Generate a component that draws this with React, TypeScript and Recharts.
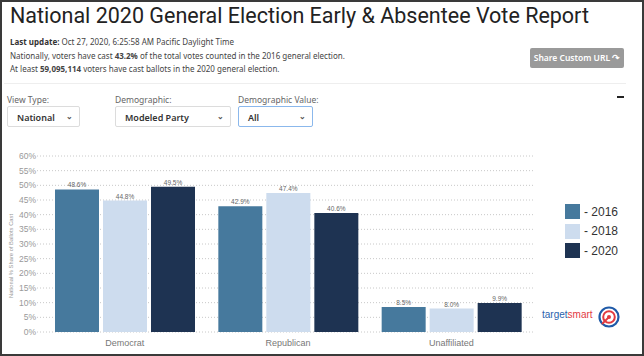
import React from 'react';
import { BarChart, Bar, XAxis, YAxis, CartesianGrid, LabelList, Label } from 'recharts';

const categories = ['Democrat', 'Republican', 'Unaffiliated'];
const v2016 = [48.6, 42.9, 8.5];
const v2018 = [44.8, 47.4, 8.0];
const v2020 = [49.5, 40.6, 9.9];
const yTicks = [0, 5, 10, 15, 20, 25, 30, 35, 40, 45, 50, 55, 60];
const years = ['2016', '2018', '2020'];
const colors = ['#46799d', '#cddcee', '#1e3352'];

const data = categories.map((c, i) => ({ name: c, y2016: v2016[i], y2018: v2018[i], y2020: v2020[i] }));

const headerFont = '"Noto Sans", "Open Sans", sans-serif';
const titleFont = 'Roboto, "Noto Sans", sans-serif';
const chartFont = '"Liberation Sans", Arial, sans-serif';

const fmt = (v: any) => `${Number(v).toFixed(1)}%`;

const YLabel = (props: any) => {
  const vb = props.viewBox || { x: 0, y: 0, width: 0, height: 0 };
  const x = 13;
  const y = vb.y + vb.height / 2 + 12;
  return (
    <text x={x} y={y} transform={`rotate(-90, ${x}, ${y})`} textAnchor="middle" fontSize={5.8} fill="#999" fontFamily={chartFont}>
      National % Share of Ballots Cast
    </text>
  );
};

const Select = ({ left, width, label, value, focus }: any) => (
  <>
    <div style={{ position: 'absolute', left, top: 94, fontSize: 8.5, color: '#666', fontFamily: headerFont }}>{label}</div>
    <div
      style={{
        position: 'absolute', left, top: 106, width, height: 21, boxSizing: 'border-box',
        border: focus ? '1.5px solid #8bb8ec' : '1px solid #dcdcdc', borderRadius: 2, background: '#fff',
        fontFamily: headerFont, fontSize: 9, fontWeight: 600, color: '#333',
      }}
    >
      <span style={{ position: 'absolute', left: 9, top: 4 }}>{value}</span>
      <span style={{ position: 'absolute', right: 6, top: 3, fontSize: 8, color: '#555' }}>&#x2304;</span>
    </div>
  </>
);

export default function App() {
  return (
    <div style={{ position: 'absolute', left: 0, top: 0, width: 644, height: 356, background: '#fff', overflow: 'hidden' }}>
      <div style={{ position: 'absolute', left: 10, top: 3, fontSize: 21.5, color: '#222', fontFamily: titleFont, whiteSpace: 'nowrap' }}>
        National 2020 General Election Early &amp; Absentee Vote Report
      </div>
      <div style={{ position: 'absolute', left: 10, top: 35, fontSize: 8, color: '#444', fontFamily: headerFont, lineHeight: '13.5px', whiteSpace: 'nowrap' }}>
        <div><b style={{ color: '#333' }}>Last update:</b> Oct 27, 2020, 6:25:58 AM Pacific Daylight Time</div>
        <div>Nationally, voters have cast <b>43.2%</b> of the total votes counted in the 2016 general election.</div>
        <div>At least <b>59,095,114</b> voters have cast ballots in the 2020 general election.</div>
      </div>
      <div
        style={{
          position: 'absolute', left: 530, top: 48, width: 94, height: 20, background: '#9a9a9a', borderRadius: 2,
          color: '#fff', fontFamily: headerFont, fontSize: 8.5, fontWeight: 600, textAlign: 'center', lineHeight: '20px',
        }}
      >
        Share Custom URL &#x21B7;
      </div>
      <div style={{ position: 'absolute', left: 4, top: 83, width: 622, height: 1, background: '#eeeeee' }} />
      <div style={{ position: 'absolute', left: 617, top: 96, width: 7, height: 2, background: '#222' }} />

      <Select left={7} width={73} label="View Type:" value="National" />
      <Select left={115} width={116} label="Demographic:" value="Modeled Party" />
      <Select left={238} width={75} label="Demographic Value:" value="All" focus />

      <div style={{ position: 'absolute', left: 0, top: 145 }}>
        <BarChart
          width={545}
          height={211}
          data={data}
          margin={{ top: 11, right: 12, bottom: 4, left: 0 }}
          barGap={4}
          barCategoryGap={12}
          style={{ fontFamily: chartFont }}
        >
          <CartesianGrid vertical={false} stroke="#c8c8c8" strokeDasharray="1 2" />
          <XAxis
            dataKey="name"
            height={20}
            tickLine={false}
            axisLine={false}
            padding={{ left: 6, right: 0 }}
            tick={{ fontSize: 9, fill: '#777' }}
          />
          <YAxis
            width={37}
            domain={[0, 60]}
            ticks={yTicks}
            interval={0}
            tickLine={false}
            axisLine={false}
            tickSize={0}
            tickMargin={1}
            tickFormatter={(v: any) => `${v}%`}
            tick={{ fontSize: 8.5, fill: '#999' }}
          >
            <Label content={YLabel} />
          </YAxis>
          {['y2016', 'y2018', 'y2020'].map((k, i) => (
            <Bar key={k} dataKey={k} fill={colors[i]} isAnimationActive={false}>
              <LabelList dataKey={k} position="top" offset={2} formatter={fmt} style={{ fontSize: 6.5, fill: '#666' }} />
            </Bar>
          ))}
        </BarChart>
      </div>

      {years.map((y, i) => (
        <div key={y} style={{ position: 'absolute', left: 565, top: 204 + i * 19.5, height: 15, display: 'flex', alignItems: 'center' }}>
          <div style={{ width: 15, height: 15, background: colors[i] }} />
          <span style={{ marginLeft: 4, fontSize: 12, color: '#333', fontFamily: chartFont }}>- {y}</span>
        </div>
      ))}

      <div style={{ position: 'absolute', left: 542, top: 309, fontSize: 10, fontFamily: chartFont, whiteSpace: 'nowrap' }}>
        <span style={{ color: '#2a62ad' }}>target</span><span style={{ color: '#e23a3f' }}>smart</span>
      </div>
      <svg style={{ position: 'absolute', left: 598, top: 306 }} width={22} height={22}>
        <circle cx={11} cy={11} r={9.5} fill="none" stroke="#1f5aa8" strokeWidth={2.2} />
        <circle cx={11} cy={11} r={5.8} fill="none" stroke="#e23a3f" strokeWidth={2} />
        <circle cx={11} cy={11} r={2} fill="#e23a3f" />
        <line x1={11} y1={11} x2={4} y2={18} stroke="#e23a3f" strokeWidth={1.8} />
      </svg>

      <div style={{ position: 'absolute', left: 0, top: 0, width: 644, height: 356, boxSizing: 'border-box', border: '2px solid #3a3a3a', pointerEvents: 'none' }} />
    </div>
  );
}
